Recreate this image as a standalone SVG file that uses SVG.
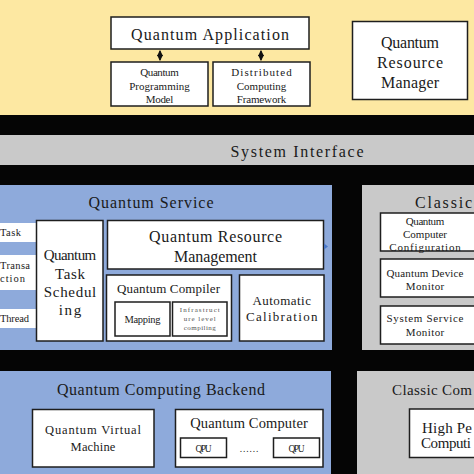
<svg xmlns="http://www.w3.org/2000/svg" width="474" height="474" viewBox="0 0 474 474">
<style>
text{font-family:"Liberation Serif","DejaVu Serif",serif;fill:#1a1a1a;text-anchor:middle;lengthAdjust:spacing}
.s{text-anchor:start}
.box{fill:#ffffff;stroke:#1e1e1e;stroke-width:1.5}
.wb{fill:#ffffff}
.yel{fill:#fde8a2}
.blu{fill:#8eaadb}
.gry{fill:#c9c9c9}
.t16{font-size:16px}
.t15{font-size:15px}
.t13{font-size:13px}
.t12{font-size:12.5px}
.t11{font-size:11px}
.t10{font-size:10.5px}
.t9{font-size:9.5px}
.t7{font-size:7px;fill:#555}
.arr{stroke:#111;stroke-width:1.3;fill:none}
</style>
<defs>
<marker id="ah" viewBox="0 0 6 6" refX="5" refY="3" markerWidth="5" markerHeight="5" orient="auto-start-reverse">
<path d="M0,0 L6,3 L0,6 Z" fill="#111"/>
</marker>
</defs>
<rect x="0" y="0" width="474" height="474" fill="#050505"/>

<g id="application-layer">
<rect class="yel" x="0" y="0" width="474" height="115"/>
</g>

<g id="quantum-application">
<rect class="box" x="111" y="17" width="198" height="32"/>
<text class="t16" x="210" y="40" textLength="158">Quantum Application</text>
</g>
<g id="quantum-programming-model">
<rect class="box" x="111" y="62" width="97" height="44"/>
<text class="t11" x="159.5" y="76" textLength="38.5">Quantum</text>
<text class="t11" x="159.5" y="89.5" textLength="60.5">Programming</text>
<text class="t11" x="159.5" y="103" textLength="27.5">Model</text>
</g>
<g id="distributed-computing-framework">
<rect class="box" x="213" y="62" width="97" height="44"/>
<text class="t11" x="261.5" y="76" textLength="60.5">Distributed</text>
<text class="t11" x="261.5" y="89.5" textLength="49.5">Computing</text>
<text class="t11" x="261.5" y="103" textLength="49.5">Framework</text>
</g>
<g id="quantum-resource-manager">
<rect class="box" x="352.5" y="21.5" width="115" height="78"/>
<text class="t16" x="410" y="47.5" textLength="58">Quantum</text>
<text class="t16" x="410" y="67.5" textLength="66">Resource</text>
<text class="t16" x="410" y="87.5" textLength="58">Manager</text>
</g>

<g id="system-interface">
<rect class="gry" x="0" y="135" width="474" height="30"/>
<text class="t16" x="297" y="157" textLength="133">System Interface</text>
</g>

<g id="quantum-service">
<rect class="blu" x="0" y="185" width="332" height="165"/>
<text class="t16" x="151" y="208" textLength="125">Quantum Service</text>
</g>
<g id="task">
<rect class="wb" x="0" y="223" width="37" height="19"/>
<text class="t10 s" x="0" y="236" textLength="21">Task</text>
</g>
<g id="transaction">
<rect class="wb" x="0" y="255" width="37" height="35"/>
<text class="t10 s" x="0" y="269" textLength="30">Transa</text>
<text class="t10 s" x="0" y="281.5" textLength="25">ction</text>
</g>
<g id="thread">
<rect class="wb" x="0" y="309" width="37" height="19"/>
<text class="t10 s" x="0" y="322" textLength="29">Thread</text>
</g>
<g id="quantum-task-scheduling">
<rect class="box" x="36.5" y="220.5" width="66.5" height="120.5"/>
<text class="t15" x="70" y="260" textLength="52.5">Quantum</text>
<text class="t15" x="70" y="278.5" textLength="30">Task</text>
<text class="t15" x="70" y="297" textLength="52.5">Schedul</text>
<text class="t15" x="70" y="315" textLength="22.5">ing</text>
</g>
<g id="quantum-resource-management">
<rect class="box" x="107.5" y="220.5" width="216" height="48.5"/>
<text class="t16" x="215.5" y="242" textLength="133">Quantum Resource</text>
<text class="t16" x="215.5" y="262" textLength="83">Management</text>
</g>
<g id="quantum-compiler">
<rect class="box" x="106.5" y="275" width="125" height="66"/>
<text class="t13" x="168.5" y="293" textLength="103">Quantum Compiler</text>
</g>
<g id="mapping">
<rect class="box" x="115" y="302" width="55" height="34"/>
<text class="t10" x="142.5" y="322.5" textLength="36">Mapping</text>
</g>
<g id="infrastructure-level-compiling">
<rect class="box" x="172.5" y="302" width="54.5" height="34"/>
<text class="t7" x="199.8" y="312" textLength="40">Infrastruct</text>
<text class="t7" x="199.8" y="321" textLength="32">ure level</text>
<text class="t7" x="199.8" y="330" textLength="32">compiling</text>
</g>
<g id="automatic-calibration">
<rect class="box" x="239.5" y="275" width="84.5" height="66"/>
<text class="t13" x="281.7" y="305" textLength="58.5">Automatic</text>
<text class="t13" x="281.7" y="320.5" textLength="71.5">Calibration</text>
</g>

<g id="classic-service">
<rect class="gry" x="362" y="185" width="112" height="165"/>
<text class="t16 s" x="415" y="208" textLength="57">Classic</text>
</g>
<g id="quantum-computer-configuration">
<rect class="box" x="380.5" y="213" width="100" height="38"/>
<text class="t11" x="425" y="225" textLength="38.5">Quantum</text>
<text class="t11" x="425" y="238" textLength="44">Computer</text>
<text class="t11" x="425" y="250.5" textLength="71.5">Configuration</text>
</g>
<g id="quantum-device-monitor">
<rect class="box" x="380.5" y="259" width="100" height="38"/>
<text class="t11" x="425" y="276.5" textLength="77">Quantum Device</text>
<text class="t11" x="425" y="290" textLength="38.5">Monitor</text>
</g>
<g id="system-service-monitor">
<rect class="box" x="380.5" y="306" width="100" height="38"/>
<text class="t11" x="425" y="322" textLength="77">System Service</text>
<text class="t11" x="425" y="336" textLength="38.5">Monitor</text>
</g>

<g id="quantum-computing-backend">
<rect class="blu" x="0" y="371" width="331" height="103"/>
<text class="t16" x="161" y="395" textLength="208">Quantum Computing Backend</text>
</g>
<g id="quantum-virtual-machine">
<rect class="box" x="32.5" y="409.5" width="121.5" height="57.5"/>
<text class="t12" x="93" y="434" textLength="96">Quantum Virtual</text>
<text class="t12" x="93" y="451" textLength="44.8">Machine</text>
</g>
<g id="quantum-computer">
<rect class="box" x="175.5" y="409.5" width="147.5" height="57.5"/>
<text class="t15" x="249" y="427.5" style="font-size:14.5px" textLength="117.6">Quantum Computer</text>
<text class="t9" x="249" y="451.5" textLength="18.7">......</text>
</g>
<g id="qpu-1">
<rect class="box" x="180.5" y="438" width="46" height="19.5"/>
<text class="t9" x="203.5" y="451.5" textLength="16">QPU</text>
</g>
<g id="qpu-2">
<rect class="box" x="273.5" y="438" width="46" height="19.5"/>
<text class="t9" x="296.5" y="451.5" textLength="16">QPU</text>
</g>

<g id="classic-computing">
<rect class="gry" x="357" y="371" width="117" height="103"/>
<text class="t15 s" x="392" y="395" textLength="80">Classic Com</text>
</g>
<g id="high-performance-computing">
<rect class="box" x="409.5" y="409" width="70" height="48.5"/>
<text class="t15 s" x="422" y="433" textLength="50">High Pe</text>
<text class="t15 s" x="421" y="448" textLength="50">Computi</text>
</g>

<g id="connectors">
<line class="arr" x1="160" y1="51" x2="160" y2="60" marker-start="url(#ah)" marker-end="url(#ah)"/>
<line class="arr" x1="261" y1="51" x2="261" y2="60" marker-start="url(#ah)" marker-end="url(#ah)"/>
<path d="M324,243.5 L328,246.5 L324,249.5 Z" fill="#4a78c8"/>
</g>
</svg>
